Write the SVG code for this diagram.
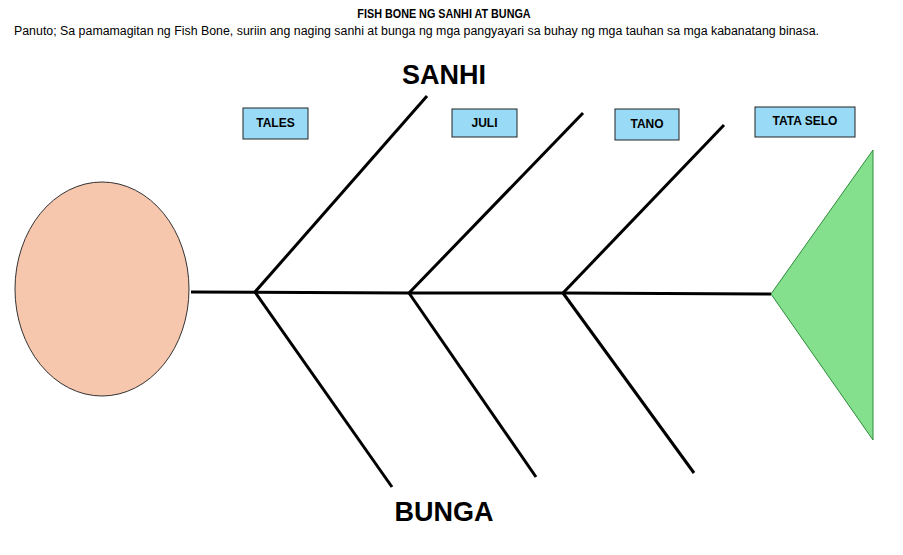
<svg xmlns="http://www.w3.org/2000/svg" width="903" height="555" viewBox="0 0 903 555">
<style>
.t{font-family:"Liberation Sans",Arial,sans-serif;fill:#000}
.box{fill:#99dbf7;stroke:#222;stroke-width:1}
.bl{font-family:"Liberation Sans",Arial,sans-serif;font-weight:bold;font-size:12px;text-anchor:middle}
.ln{stroke:#000;stroke-width:3;fill:none}
.sq{stroke:#d02020;stroke-width:0.8;fill:none;stroke-dasharray:2 1}
</style>
<rect width="903" height="555" fill="#fff"/>
<text class="t" x="444" y="18" font-size="12" font-weight="bold" text-anchor="middle" transform="translate(444 18) scale(0.9 1) translate(-444 -18)">FISH BONE NG SANHI AT BUNGA</text>
<text class="t" x="14" y="35" font-size="12" textLength="805" lengthAdjust="spacingAndGlyphs">Panuto; Sa pamamagitan ng Fish Bone, suriin ang naging sanhi at bunga ng mga pangyayari sa buhay ng mga tauhan sa mga kabanatang binasa.</text>
<text class="t" x="444" y="84" font-size="27" font-weight="bold" text-anchor="middle">SANHI</text>
<text class="t" x="444" y="521" font-size="27" font-weight="bold" text-anchor="middle">BUNGA</text>
<g id="head"><ellipse cx="102" cy="289" rx="87" ry="107" fill="#f6c6ad" stroke="#333" stroke-width="1"/></g>
<g id="tail"><polygon points="771,294 873,150 873,440" fill="#85e08e" stroke="#2e8b3a" stroke-width="1"/></g>
<g id="connectors">
<polyline class="ln" points="191,292 409,293 563,293 771,294"/>
<line class="ln" x1="255" y1="292" x2="427" y2="96"/>
<line class="ln" x1="409" y1="293" x2="583" y2="113"/>
<line class="ln" x1="563" y1="293" x2="724" y2="125"/>
<line class="ln" x1="255" y1="292" x2="392" y2="487"/>
<line class="ln" x1="409" y1="293" x2="536" y2="477"/>
<line class="ln" x1="563" y1="293" x2="694" y2="473"/>
</g>
<g id="tales"><rect class="box" x="243" y="108" width="65" height="31"/><text class="bl" x="275.5" y="127">TALES</text></g>
<g id="juli"><rect class="box" x="452" y="109" width="65" height="28"/><text class="bl" x="484.5" y="127">JULI</text></g>
<g id="tano"><rect class="box" x="615" y="109" width="64" height="31"/><text class="bl" x="647" y="128">TANO</text></g>
<g id="tataselo"><rect class="box" x="755" y="107" width="100" height="30"/><text class="bl" x="805" y="125">TATA SELO</text></g>
</svg>
